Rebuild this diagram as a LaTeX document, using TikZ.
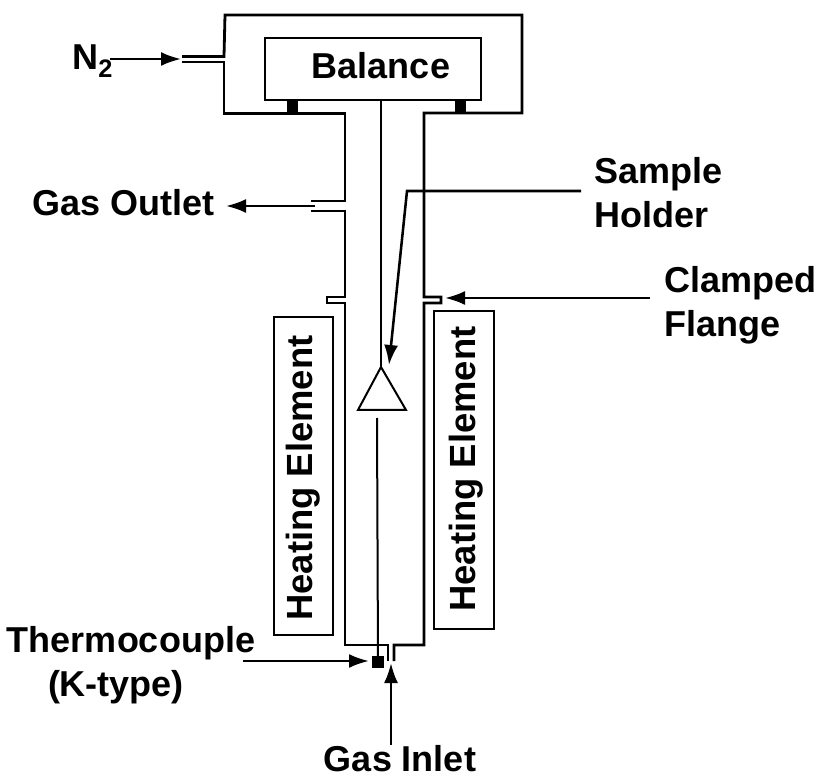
\documentclass[tikz,border=0pt]{standalone}
\usepackage{fontspec}
\setmainfont{Liberation Sans}
\usetikzlibrary{arrows.meta}
\tikzset{
  wall/.style={line width=2.1pt,line join=miter,line cap=butt},
  thinwall/.style={line width=1.5pt},
  ptr/.style={line width=1.9pt,-{Latex[length=15pt,width=10.5pt]}},
  lab/.style={font=\fontsize{27}{27}\selectfont\bfseries,inner sep=0pt,text height=19.5pt,text depth=0pt},
  heatbox/.style={draw,thinwall,minimum width=238pt,minimum height=44.5pt,inner sep=0pt,rotate=90},
  heatlab/.style={font=\fontsize{27.3}{27}\selectfont\bfseries,inner sep=0pt,rotate=90},
  foot/.style={fill=black,draw=none}
}
\begin{document}
\begin{tikzpicture}[x=0.75pt,y=-0.75pt]
\useasboundingbox (0,0) rectangle (822,784);
% housing
\draw[wall] (182,56.5) -- (224,56.5) -- (225,15) -- (522,15) -- (522,113) -- (424,113) -- (424,297) -- (441,297) -- (441,303) -- (424,303) -- (424,645) -- (394,645) -- (394,661);
\draw[wall] (182,62) -- (224,62) -- (224,113.5) -- (345,113.5) -- (345,201) -- (311,201);
\draw[wall] (311,211) -- (345,211) -- (345,297) -- (327,297) -- (327,303) -- (345,303) -- (345,645) -- (388,645) -- (388,661);
% balance
\node[draw,thinwall,minimum width=162pt,minimum height=46.5pt,inner sep=0pt] (bal) at (373,69) {};
\node[lab,anchor=base] (ballab) at (381,79) {Balance};
\fill[foot] (287,100) rectangle (298,112);
\fill[foot] (455,100) rectangle (466,112);
% rod and pan
\coordinate (apex) at (381,367);
\coordinate (rodtop) at (381,100);
\draw[thinwall] (rodtop) -- (apex);
\draw[thinwall,line join=miter] (apex) -- (406,410) -- (358,410) -- cycle;
% thermocouple
\coordinate (tctop) at (377,418);
\node[fill=black,minimum width=9pt,minimum height=8.5pt,inner sep=0pt] (tc) at (378,662) {};
\draw[thinwall] (tctop) -- (tc);
% heating
\node[heatbox] (h1) at (303.5,476) {};
\node[heatbox] (h2) at (464,470) {};
\node[heatlab] (hl1) at (303.5,478) {Heating Element};
\node[heatlab] (hl2) at (466,469) {Heating Element};
% labels
\node[lab,anchor=base west] (n2) at (72,70) {N\raisebox{-6pt}{\fontsize{19}{19}\selectfont 2}};
\node[lab,anchor=base west] (gout) at (32,216) {Gas Outlet};
\node[lab,anchor=base west] (sh1) at (594,184) {Sample};
\node[lab,anchor=base west] (sh2) at (594,228) {Holder};
\node[lab,anchor=base west] (cf1) at (664,293) {Clamped};
\node[lab,anchor=base west] (cf2) at (664,337) {Flange};
\node[lab,anchor=base] (tc1) at (131,652) {Thermocouple};
\node[lab,anchor=base] (tc2) at (116,696) {(K-type)};
\node[lab,anchor=base] (gi) at (400,771) {Gas Inlet};
% arrows
\coordinate (n2s) at (110,59); \coordinate (n2e) at (181,59);
\draw[ptr] (n2s) -- (n2e);
\coordinate (os) at (315,206); \coordinate (oe) at (226,206);
\draw[ptr] (os) -- (oe);
\coordinate (ss) at (581,191); \coordinate (sb) at (407,191); \coordinate (se) at (389,365);
\draw[ptr,line join=miter] (ss) -- (sb) -- (se);
\coordinate (cs) at (650,298); \coordinate (ce) at (445,298);
\draw[ptr] (cs) -- (ce);
\coordinate (ts) at (243,661); \coordinate (te) at (369,661);
\draw[ptr] (ts) -- (te);
\coordinate (gs) at (391,745); \coordinate (ge) at (391,663);
\draw[ptr] (gs) -- (ge);
\end{tikzpicture}
\end{document}
